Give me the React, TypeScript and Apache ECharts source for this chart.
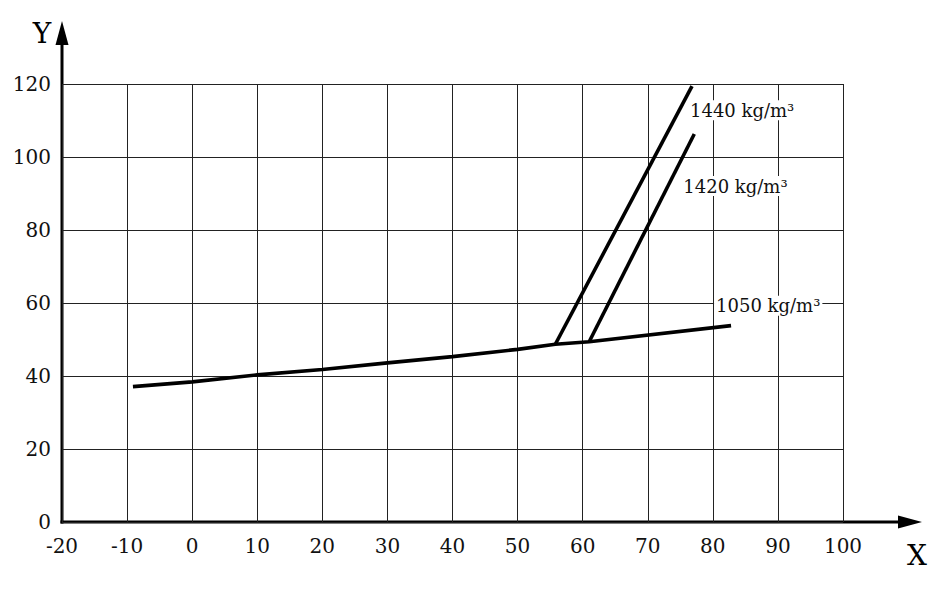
import { useRef, useEffect } from "react";
import * as echarts from "echarts";

// density curves
const SERIES_NAMES = ["1050 kg/m³", "1440 kg/m³", "1420 kg/m³"];
const LINE_1050: [number, number][] = [
  [-9.1, 37.1], [0, 38.4], [10, 40.3], [20, 41.8], [30, 43.6],
  [40, 45.3], [50, 47.3], [55.8, 48.7], [61, 49.4], [82.8, 53.8],
];
const LINE_1440: [number, number][] = [[55.8, 48.7], [76.8, 119.4]];
const LINE_1420: [number, number][] = [[61, 49.4], [77.15, 106.3]];

const X_MIN = -20;
const X_MAX = 100;
const X_STEP = 10;
const Y_MIN = 0;
const Y_MAX = 120;
const Y_STEP = 20;

const SERIF = "DejaVu Serif";

export default function App() {
  const chartRef = useRef<HTMLDivElement>(null);

  useEffect(() => {
    if (!chartRef.current) return;
    document.body.style.margin = "0";
    const chart = echarts.init(chartRef.current, null, { renderer: "svg" });

    const lineOf = (name: string, data: [number, number][], offset: [number, number]): echarts.SeriesOption => ({
      name, type: "line", data, symbol: "none", smooth: false,
      lineStyle: { color: "#000", width: 3.6 },
      markPoint: {
        symbol: "circle", symbolSize: 0, silent: true,
        itemStyle: { color: "transparent" },
        label: {
          show: true, position: "inside", align: "left", verticalAlign: "middle",
          offset, formatter: name, color: "#111", fontFamily: SERIF, fontSize: 18,
          backgroundColor: "#fff", padding: [1, 2],
        },
        data: [{ coord: data[data.length - 1] }],
      },
    });

    const option: echarts.EChartsOption = {
      animation: false,
      backgroundColor: "#fff",
      grid: { left: 62, top: 84, right: 98, bottom: 73 },
      xAxis: {
        type: "value", min: X_MIN, max: X_MAX, interval: X_STEP,
        axisLine: { show: false }, axisTick: { show: false },
        splitLine: { show: true, lineStyle: { color: "#222", width: 1 } },
        axisLabel: { color: "#111", fontFamily: SERIF, fontSize: 20, margin: 14 },
      },
      yAxis: {
        type: "value", min: Y_MIN, max: Y_MAX, interval: Y_STEP,
        axisLine: { show: false }, axisTick: { show: false },
        splitLine: { show: true, lineStyle: { color: "#222", width: 1 } },
        axisLabel: { color: "#111", fontFamily: SERIF, fontSize: 20, margin: 11 },
      },
      graphic: [
        { type: "line", shape: { x1: 62, y1: 523.5, x2: 62, y2: 42 }, style: { stroke: "#000", lineWidth: 3 } },
        { type: "polygon", shape: { points: [[62, 21], [55.5, 45], [68.5, 45]] }, style: { fill: "#000" } },
        { type: "line", shape: { x1: 60.5, y1: 522, x2: 901, y2: 522 }, style: { stroke: "#000", lineWidth: 3 } },
        { type: "polygon", shape: { points: [[922, 522], [898, 515.5], [898, 528.5]] }, style: { fill: "#000" } },
        { type: "text", style: { text: "Y", x: 42, y: 33, align: "center", verticalAlign: "middle", font: `28px '${SERIF}'`, fill: "#000" } },
        { type: "text", style: { text: "X", x: 917, y: 555, align: "center", verticalAlign: "middle", font: `28px '${SERIF}'`, fill: "#000" } },
      ],
      series: [
        lineOf(SERIES_NAMES[0], LINE_1050, [-17, -20]),
        lineOf(SERIES_NAMES[1], LINE_1440, [-4, 24]),
        lineOf(SERIES_NAMES[2], LINE_1420, [-13, 52]),
      ],
    };
    chart.setOption(option);
    return () => { chart.dispose(); };
  }, []);

  return <div ref={chartRef} style={{ width: 941, height: 595 }} />;
}
